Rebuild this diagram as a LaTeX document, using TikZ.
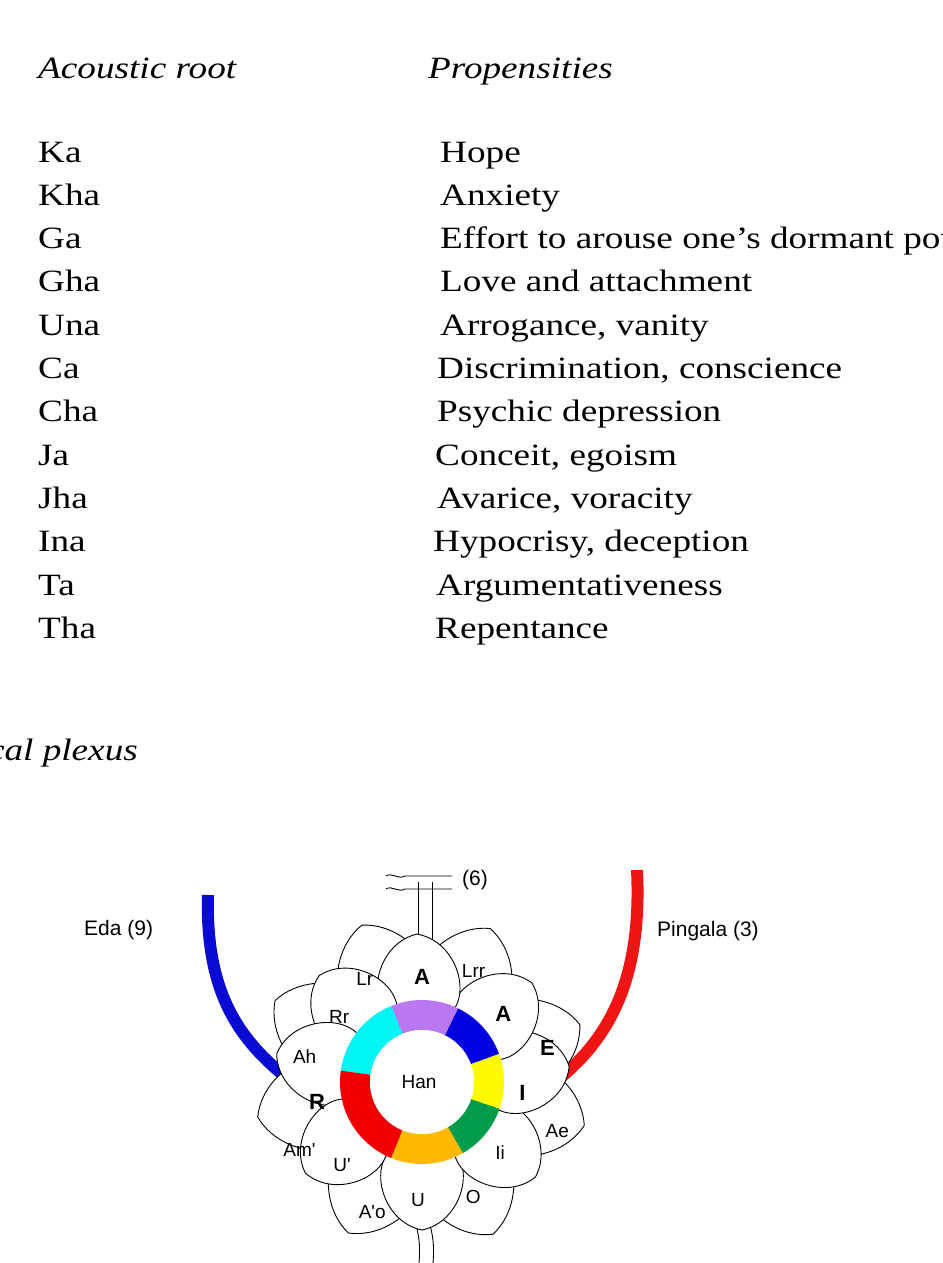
\documentclass[tikz,border=0pt]{standalone}
\usepackage{fontspec}
\setmainfont{Liberation Serif}
\newfontfamily\tablefont[FakeStretch=1.2]{Liberation Serif}
\newfontfamily\sansfont{Liberation Sans}
\begin{document}
\begin{tikzpicture}[x=1pt, y=-1pt,
        table text/.style = {anchor=base west, inner sep=0pt, font=\tablefont\fontsize{31}{36}\selectfont},
        table head/.style = {table text, font=\tablefont\fontsize{31}{36}\selectfont\itshape},
        petal back/.style = {draw, fill=white, line width=0.9pt},
        petal front/.style = {draw, fill=white, line width=0.9pt},
        petal label/.style = {font=\sansfont\fontsize{19}{21}\selectfont, inner sep=0pt},
        petal big/.style = {font=\sansfont\bfseries\fontsize{22}{24}\selectfont, inner sep=0pt},
        nadi label/.style = {font=\sansfont\fontsize{21}{24}\selectfont, inner sep=0pt},
        nadi/.style = {line width=12pt},
        ]
        \useasboundingbox (0,0) rectangle (942,1263);

        % Table heads
        \node[table head] (headroot) at (38,78) {Acoustic root};
        \node[table head] (headprop) at (428,78) {Propensities};

        % Table rows
        \foreach \i/\root/\xp/\prop in {
            0/Ka/440/Hope, 1/Kha/440/Anxiety, 2/Ga/440/Effort to arouse one’s dormant potentialities,
            3/Gha/440/Love and attachment, 4/Una/440/{Arrogance, vanity},
            5/Ca/437/{Discrimination, conscience}, 6/Cha/437/Psychic depression,
            7/Ja/435/{Conceit, egoism}, 8/Jha/437/{Avarice, voracity},
            9/Ina/433/{Hypocrisy, deception}, 10/Ta/436/Argumentativeness, 11/Tha/435/Repentance} {
            \node[table text] (root\i) at (38,162+43.3*\i) {\root};
            \node[table text] (prop\i) at (\xp,162+43.3*\i) {\prop};
        }

        \node[table head, anchor=base east] (plexus) at (138,760) {Cervical plexus};

        % Nadis
        \draw[nadi, color={rgb,255:red,10;green,10;blue,210}] (208,895) .. controls (205,1000) and (245,1045) .. (292,1082);
        \draw[nadi, color={rgb,255:red,240;green,20;blue,20}] (637,870) .. controls (642,975) and (612,1035) .. (560,1078);
        \node[nadi label, anchor=west] (eda) at (84,930) {Eda (9)};
        \node[nadi label, anchor=west] (pingala) at (657,931) {Pingala (3)};

        % Stems
        \draw[line width=0.9pt] (418,882) -- (418,945) (432,882) -- (432,945);
        \draw[line width=0.9pt] (386,876) .. controls (392,872) and (398,880) .. (405,876) -- (452,876);
        \draw[line width=0.9pt] (386,889) .. controls (392,885) and (398,893) .. (405,889) -- (452,889);
        \node[nadi label, anchor=west] (six) at (462,880) {(6)};
        \draw[line width=0.9pt] (416,1225) .. controls (420,1240) and (420,1250) .. (419,1263);
        \draw[line width=0.9pt] (430,1225) .. controls (434,1240) and (434,1250) .. (433,1263);

        \begin{scope}[shift={(422,1082)}, yscale=-1]
            % Back petals
            \foreach \a in {65,116,15,168,-20,-66,-111,-151} {
                \draw[petal back, rotate=\a] (60,0) .. controls (58,-70) and (150,-55) .. (168,0)
                    .. controls (150,55) and (58,70) .. (60,0);
            }
            % Front petals
            \foreach \a in {90,40,-6,-42,-92,-134,-169,142} {
                \draw[petal front, rotate=\a] (60,0) .. controls (52,-60) and (138,-50) .. (148,0)
                    .. controls (138,50) and (52,60) .. (60,0);
            }
            % Petal labels
            \foreach \a/\r/\t/\n in {65/122/Lrr/lrr, 119/118/Lr/lr, 168/120/Ah/ah, -20/144/Ae/ae,
                -66/126/O/o, -111/139/A'o/ao, -151/140/Am'/am, -42/105/Ii/ii, -134/115/U'/ud, -92/118/U/u, 142/105/Rr/rr} {
                \node[petal label] (p\n) at (\a:\r) {\t};
            }
            \foreach \a/\r/\t/\n in {90/105/A/atop, 40/106/A/aright, -6/101/I/i, -169/107/R/r, 15/130/E/e} {
                \node[petal big] (p\n) at (\a:\r) {\t};
            }
            % Ring
            \foreach \s/\e/\c in {20/64/{rgb,255:red,0;green,0;blue,225}, 64/112/{rgb,255:red,185;green,120;blue,240},
                112/172/{rgb,255:red,0;green,245;blue,245}, 172/248/{rgb,255:red,240;green,0;blue,0},
                248/300/{rgb,255:red,255;green,185;blue,0}, 300/341/{rgb,255:red,0;green,155;blue,75},
                341/380/{rgb,255:red,255;green,250;blue,0}} {
                \fill[color=\c] (\s:82) arc (\s:\e:82) -- (\e:52) arc (\e:\s:52) -- cycle;
            }
            \fill[white] (0,0) circle (52);
            \node[petal label] (han) at (-3,0) {Han};
        \end{scope}
    \end{tikzpicture}
\end{document}
